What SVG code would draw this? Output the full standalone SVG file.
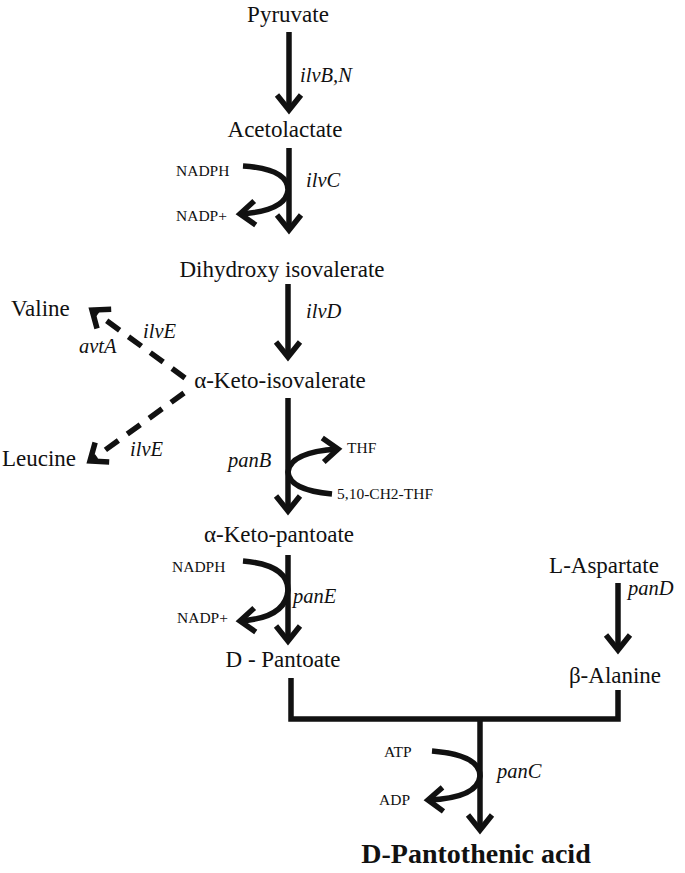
<svg xmlns="http://www.w3.org/2000/svg" width="685" height="873" viewBox="0 0 685 873">
<defs>
<marker id="ah" markerUnits="userSpaceOnUse" markerWidth="40" markerHeight="40" viewBox="-20 -20 40 40" refX="0" refY="0" orient="auto">
<path d="M-15,-12 L0,0 L-15,12" fill="none" stroke="#111" stroke-width="5.5" stroke-dasharray="none" stroke-linejoin="miter"/>
</marker>
<style>
.t{font-family:"Liberation Serif","Times New Roman",serif;font-size:23px;fill:#111}
.s{font-family:"Liberation Serif","Times New Roman",serif;font-size:15.5px;fill:#111}
.e{font-family:"Liberation Serif","Times New Roman",serif;font-size:20.5px;font-style:italic;fill:#111}
.b{font-family:"Liberation Serif","Times New Roman",serif;font-size:28px;font-weight:bold;fill:#111}
.ln{fill:none;stroke:#111;stroke-width:5.5}
.da{fill:none;stroke:#111;stroke-width:5.5;stroke-dasharray:16 11}
</style>
</defs>
<g id="connectors">
<line class="ln" x1="289" y1="32" x2="289" y2="110" marker-end="url(#ah)"/>
<line class="ln" x1="289" y1="148" x2="289" y2="230" marker-end="url(#ah)"/>
<path class="ln" d="M243,166 Q288,169 288,190 Q286,211 240,214" marker-end="url(#ah)" stroke-width="4.5"/>
<line class="ln" x1="288" y1="284" x2="288" y2="357" marker-end="url(#ah)"/>
<path class="da" d="M185,378 L92,310" marker-end="url(#ah)"/>
<path class="da" d="M184,393 L90,461" marker-end="url(#ah)"/>
<line class="ln" x1="288" y1="398" x2="288" y2="511" marker-end="url(#ah)"/>
<path class="ln" d="M332,494 Q289,490 288,472 Q290,452 338,449" marker-end="url(#ah)" stroke-width="4.5"/>
<line class="ln" x1="288" y1="555" x2="288" y2="641" marker-end="url(#ah)"/>
<path class="ln" d="M243,561 Q288,565 288,590 Q286,618 240,621" marker-end="url(#ah)" stroke-width="4.5"/>
<line class="ln" x1="618" y1="583" x2="618" y2="650" marker-end="url(#ah)"/>
<path class="ln" d="M291,678 L291,719 L618,719 L618,690" stroke-linejoin="miter"/>
<line class="ln" x1="480" y1="719" x2="480" y2="830" marker-end="url(#ah)"/>
<path class="ln" d="M432,751 Q480,755 480,776 Q478,798 428,800" marker-end="url(#ah)" stroke-width="4.5"/>
</g>
<g id="pyruvate"><text class="t" x="288" y="22" text-anchor="middle">Pyruvate</text></g>
<g id="ilvBN"><text class="e" x="300" y="82">ilvB,N</text></g>
<g id="acetolactate"><text class="t" x="285" y="137" text-anchor="middle">Acetolactate</text></g>
<g id="ilvC"><text class="e" x="306" y="187">ilvC</text></g>
<g id="nadph1"><text class="s" x="176" y="176">NADPH</text></g>
<g id="nadp1"><text class="s" x="176" y="221">NADP+</text></g>
<g id="dihydroxy"><text class="t" x="282" y="277" text-anchor="middle">Dihydroxy isovalerate</text></g>
<g id="ilvD"><text class="e" x="306" y="318">ilvD</text></g>
<g id="ketoiso"><text class="t" x="280" y="388" text-anchor="middle">α-Keto-isovalerate</text></g>
<g id="valine"><text class="t" x="11" y="316">Valine</text></g>
<g id="ilvE1"><text class="e" x="143" y="338">ilvE</text></g>
<g id="avtA"><text class="e" x="79" y="353">avtA</text></g>
<g id="leucine"><text class="t" x="2" y="466">Leucine</text></g>
<g id="ilvE2"><text class="e" x="130" y="456">ilvE</text></g>
<g id="panB"><text class="e" x="228" y="467">panB</text></g>
<g id="thf"><text class="s" x="347" y="453">THF</text></g>
<g id="ch2thf"><text class="s" x="337" y="499">5,10-CH2-THF</text></g>
<g id="ketopant"><text class="t" x="279" y="542" text-anchor="middle">α-Keto-pantoate</text></g>
<g id="nadph2"><text class="s" x="172" y="572">NADPH</text></g>
<g id="nadp2"><text class="s" x="177" y="623">NADP+</text></g>
<g id="panE"><text class="e" x="293" y="603">panE</text></g>
<g id="dpantoate"><text class="t" x="283" y="667" text-anchor="middle">D - Pantoate</text></g>
<g id="aspartate"><text class="t" x="604" y="573" text-anchor="middle">L-Aspartate</text></g>
<g id="panD"><text class="e" x="628" y="595">panD</text></g>
<g id="alanine"><text class="t" x="615" y="683" text-anchor="middle">β-Alanine</text></g>
<g id="atp"><text class="s" x="384" y="757">ATP</text></g>
<g id="adp"><text class="s" x="379" y="805">ADP</text></g>
<g id="panC"><text class="e" x="497" y="778">panC</text></g>
<g id="pantothenic"><text class="b" x="476" y="863" text-anchor="middle">D-Pantothenic acid</text></g>
</svg>
